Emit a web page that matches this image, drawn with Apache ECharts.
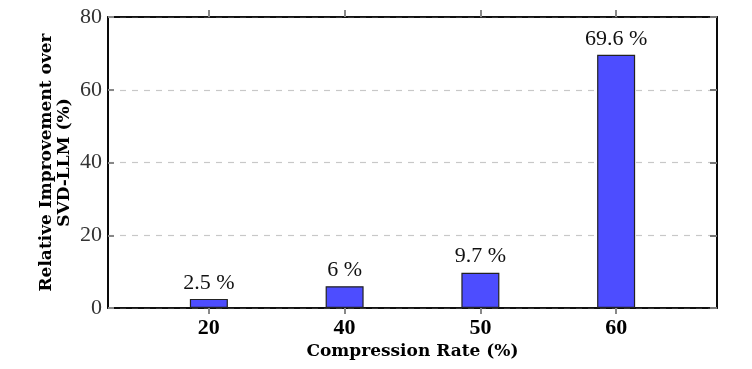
<!DOCTYPE html>
<html>
<head>
<meta charset="utf-8">
<script src="https://cdn.jsdelivr.net/npm/echarts@6/dist/echarts.min.js"></script>
<style>html,body{margin:0;padding:0;background:#fff;}#c{width:752px;height:369px;}</style>
</head>
<body>
<div id="c"></div>
<script>
const categories = ['20', '40', '50', '60'];
const values = [2.5, 6, 9.7, 69.6];
const yTicks = [0, 20, 40, 60, 80];

const chart = echarts.init(document.getElementById('c'), null, {renderer: 'canvas'});
const numFont = '"Liberation Serif", serif';
const nameFont = '"DejaVu Serif", serif';
const positions = categories.map((c, i) => i);
const seriesData = values.map((v, i) => [i, v]);

chart.setOption({
  animation: false,
  grid: {left: 108, right: 35, top: 17, bottom: 61, show: true, borderColor: '#000', borderWidth: 1.6, containLabel: false},
  xAxis: [{
    type: 'value', min: -0.743, max: 3.743, position: 'bottom',
    splitLine: {show: false},
    axisLine: {show: true, onZero: false, lineStyle: {color: '#000', width: 1.6}},
    axisTick: {show: true, inside: false, length: 6, customValues: positions, lineStyle: {color: '#888', width: 2}},
    axisLabel: {show: true, customValues: positions, formatter: v => categories[Math.round(v)], fontFamily: numFont, fontWeight: 'bold', fontSize: 22, color: '#000', margin: 9},
    name: 'Compression Rate (%)', nameLocation: 'middle', nameGap: 35, nameMoveOverlap: false,
    nameTextStyle: {fontFamily: nameFont, fontWeight: 'bold', fontSize: 17, color: '#000'}
  }, {
    type: 'value', min: -0.743, max: 3.743, position: 'top',
    splitLine: {show: false},
    axisLine: {show: true, onZero: false, lineStyle: {color: '#000', width: 1.6}},
    axisTick: {show: true, inside: false, length: 7, customValues: positions, lineStyle: {color: '#888', width: 2}},
    axisLabel: {show: false}
  }],
  yAxis: [{
    type: 'value', min: 0, max: 80, interval: 20, position: 'left',
    axisLine: {show: true, onZero: false, lineStyle: {color: '#000', width: 1.6}},
    axisTick: {show: true, inside: true, length: 6, lineStyle: {color: '#888', width: 2}},
    splitLine: {show: true, lineStyle: {color: '#c8c8c8', type: [6, 6], width: 1.2}},
    axisLabel: {customValues: yTicks, fontFamily: numFont, fontSize: 22, color: '#333', margin: 6},
    name: 'Relative Improvement over\nSVD-LLM (%)', nameLocation: 'middle', nameGap: 34, nameMoveOverlap: false,
    nameTextStyle: {fontFamily: nameFont, fontWeight: 'bold', fontSize: 17, color: '#000', lineHeight: 18}
  }, {
    type: 'value', min: 0, max: 80, interval: 20, position: 'right',
    axisLine: {show: true, onZero: false, lineStyle: {color: '#000', width: 1.6}},
    axisTick: {show: true, inside: true, length: 7, lineStyle: {color: '#777', width: 2}},
    splitLine: {show: false},
    axisLabel: {show: false}
  }],
  series: [{
    type: 'bar', xAxisIndex: 0, yAxisIndex: 0,
    data: seriesData, barWidth: 38,
    itemStyle: {color: '#4d4dff', borderColor: '#222', borderWidth: 1.2},
    label: {show: true, position: 'top', distance: 5, formatter: p => p.value[1] + ' %', fontFamily: numFont, fontSize: 22, color: '#111'}
  }]
});
</script>
</body>
</html>
